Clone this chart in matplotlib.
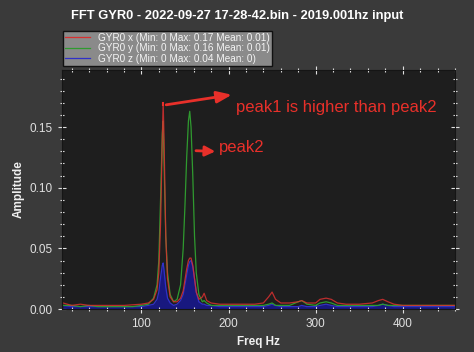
import matplotlib
matplotlib.use("Agg")
import matplotlib.pyplot as plt
from matplotlib.ticker import MultipleLocator

plt.rcParams['font.family'] = ['Liberation Sans', 'DejaVu Sans']

freq = [10, 20, 30, 40, 50, 60, 70, 80, 90, 100, 108, 114, 118, 120, 122, 124, 125, 126,
        128, 130, 133, 137, 141, 145, 148, 150, 152, 154, 155.5, 157, 159, 161, 163, 166,
        170, 172, 175, 180, 190, 200, 210, 220, 230, 240, 246, 250, 254, 260, 270, 280,
        284, 290, 300, 305, 312, 318, 325, 335, 350, 365, 372, 377, 383, 390, 400, 420,
        440, 460]

gyr_x = [0.005, 0.003, 0.004, 0.003, 0.003, 0.003, 0.003, 0.003, 0.0035, 0.004, 0.005,
         0.008, 0.016, 0.03, 0.07, 0.14, 0.17, 0.14, 0.06, 0.025, 0.01, 0.006, 0.006,
         0.009, 0.015, 0.024, 0.033, 0.04, 0.042, 0.042, 0.036, 0.025, 0.014, 0.008, 0.01,
         0.013, 0.007, 0.005, 0.004, 0.004, 0.004, 0.004, 0.004, 0.005, 0.01, 0.014,
         0.008, 0.005, 0.005, 0.006, 0.007, 0.005, 0.005, 0.008, 0.009, 0.008, 0.005,
         0.004, 0.004, 0.005, 0.007, 0.008, 0.006, 0.004, 0.003, 0.003, 0.003, 0.003]

gyr_y = [0.003, 0.003, 0.002, 0.003, 0.002, 0.002, 0.002, 0.002, 0.002, 0.003, 0.004,
         0.009, 0.02, 0.04, 0.09, 0.145, 0.155, 0.12, 0.06, 0.03, 0.012, 0.006, 0.008,
         0.02, 0.05, 0.085, 0.125, 0.155, 0.163, 0.15, 0.11, 0.06, 0.03, 0.012, 0.006,
         0.007, 0.005, 0.003, 0.003, 0.003, 0.003, 0.003, 0.003, 0.003, 0.004, 0.005,
         0.003, 0.003, 0.003, 0.006, 0.007, 0.004, 0.003, 0.005, 0.006, 0.005, 0.003,
         0.003, 0.003, 0.003, 0.003, 0.004, 0.003, 0.003, 0.003, 0.003, 0.003, 0.003]

gyr_z = [0.003, 0.002, 0.002, 0.002, 0.002, 0.002, 0.002, 0.002, 0.002, 0.002, 0.003,
         0.004, 0.008, 0.014, 0.026, 0.036, 0.038, 0.032, 0.018, 0.009, 0.005, 0.003,
         0.004, 0.007, 0.012, 0.02, 0.028, 0.036, 0.039, 0.04, 0.035, 0.025, 0.014, 0.006,
         0.004, 0.004, 0.003, 0.003, 0.002, 0.002, 0.002, 0.002, 0.002, 0.002, 0.003,
         0.004, 0.003, 0.002, 0.002, 0.002, 0.003, 0.002, 0.002, 0.003, 0.004, 0.003,
         0.002, 0.002, 0.002, 0.002, 0.003, 0.004, 0.003, 0.002, 0.002, 0.002, 0.002, 0.002]

labels = ['GYR0 x (Min: 0 Max: 0.17 Mean: 0.01)',
          'GYR0 y (Min: 0 Max: 0.16 Mean: 0.01)',
          'GYR0 z (Min: 0 Max: 0.04 Mean: 0)']

fig = plt.figure(figsize=(4.74, 3.52), dpi=100, facecolor='#3a3a3a')
ax = fig.add_axes([0.131, 0.122, 0.829, 0.679], facecolor='#1e1e1e')

ax.fill_between(freq, 0, gyr_z, color='#18188a', alpha=0.9, lw=0)
lz, = ax.plot(freq, gyr_z, color='#3030c8', lw=0.9)
ly, = ax.plot(freq, gyr_y, color='#2f9a2f', lw=0.9)
lx, = ax.plot(freq, gyr_x, color='#d83030', lw=0.9, alpha=0.85)

ax.set_xlim(9, 460)
ax.set_ylim(0, 0.197)
ax.xaxis.set_major_locator(MultipleLocator(100))
ax.xaxis.set_minor_locator(MultipleLocator(20))
ax.yaxis.set_major_locator(MultipleLocator(0.05))
ax.yaxis.set_minor_locator(MultipleLocator(0.01))
ax.yaxis.set_major_formatter(plt.FormatStrFormatter('%.2f'))
ax.tick_params(which='both', direction='inout', colors='#e0e0e0', top=True, right=True,
               labelsize=8.5)
ax.tick_params(which='major', length=6, width=0.8)
ax.tick_params(which='minor', length=3, width=0.8)
for s in ax.spines.values():
    s.set_color('#151515')

ax.set_xlabel('Freq Hz', color='#f0f0f0', fontsize=8.5, fontweight='bold')
ax.set_ylabel('Amplitude', color='#f0f0f0', fontsize=8.5, fontweight='bold')

fig.suptitle('FFT GYR0 - 2022-09-27 17-28-42.bin - 2019.001hz input', x=0.5, y=0.972,
             color='white', fontsize=9.3, fontweight='bold')

leg = fig.legend([lx, ly, lz], labels, loc='upper left', bbox_to_anchor=(0.133, 0.912),
                 fontsize=7.2, facecolor='#8a8a8a', edgecolor='#111111', framealpha=1,
                 fancybox=False, labelspacing=0.05, handlelength=2.5, borderpad=0.2,
                 handletextpad=0.8, borderaxespad=0)
for t in leg.get_texts():
    t.set_color('#f4f4f4')
for h in leg.legend_handles:
    h.set_alpha(1)

red = '#e8302a'
ax.plot([125.3, 125.3], [0.17, 0.168], color=red, lw=1.5)
ax.annotate('', xy=(207, 0.177), xytext=(125.3, 0.168),
            arrowprops=dict(arrowstyle='-|>,head_length=0.9,head_width=0.35', color=red, lw=2))
ax.text(209, 0.166, 'peak1 is higher than peak2', color=red, fontsize=12, va='center')
ax.annotate('', xy=(188, 0.1298), xytext=(159.5, 0.1306),
            arrowprops=dict(arrowstyle='-|>,head_length=0.6,head_width=0.3', color=red, lw=2))
ax.text(189, 0.1335, 'peak2', color=red, fontsize=12, va='center')

fig.savefig('out.png', dpi=100, facecolor=fig.get_facecolor())
